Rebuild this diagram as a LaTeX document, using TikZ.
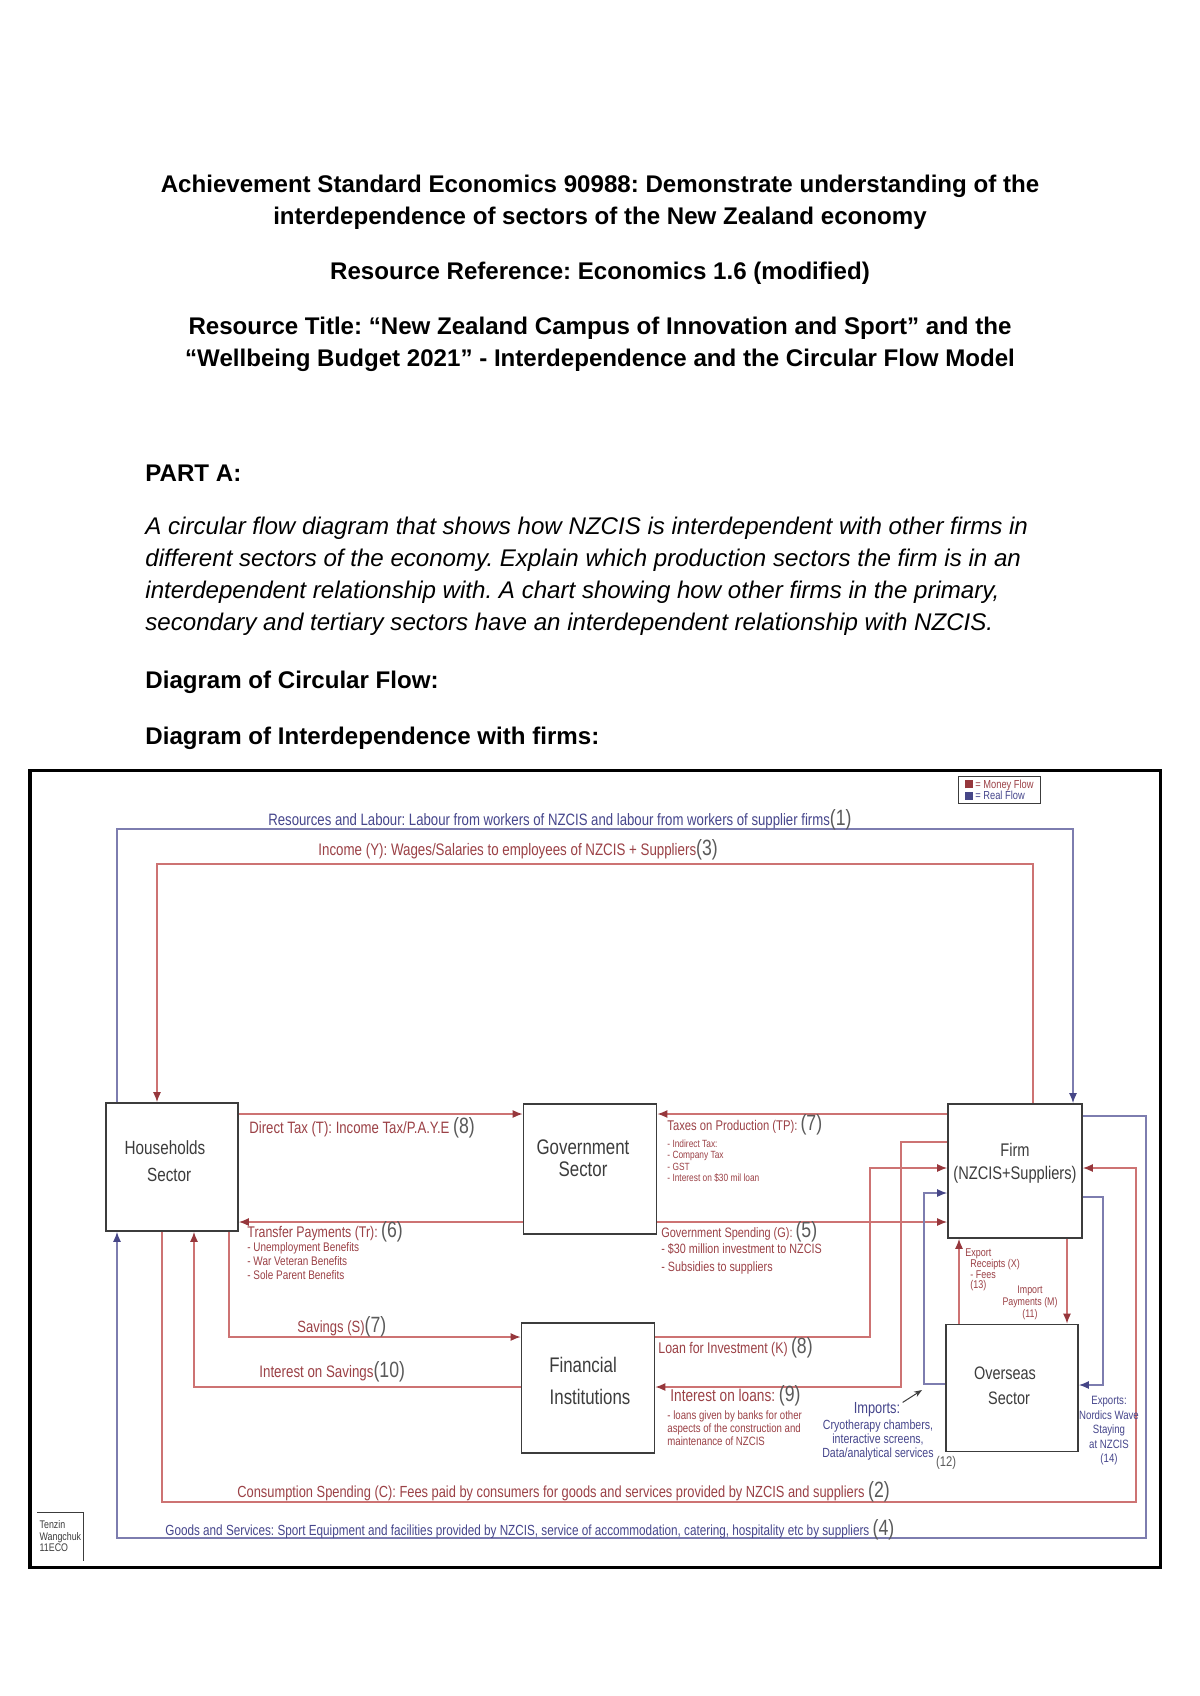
\documentclass[tikz,border=0pt]{standalone}
\usepackage{fontspec}
\setmainfont{Liberation Sans}
\newfontfamily\hand[FakeStretch=0.8]{Liberation Sans}
\usetikzlibrary{arrows.meta}
\definecolor{moneyline}{RGB}{205,115,115}
\definecolor{moneytip}{RGB}{150,55,60}
\definecolor{moneytext}{RGB}{155,65,70}
\definecolor{realline}{RGB}{125,125,175}
\definecolor{realtip}{RGB}{70,70,135}
\definecolor{realtext}{RGB}{70,70,140}
\definecolor{boxline}{RGB}{60,60,60}
\definecolor{numgray}{RGB}{90,90,90}
\newcommand{\hw}[2]{\hand\fontsize{#1}{#2}\selectfont}
\newcommand{\flowno}[1]{{\color{numgray}\fontsize{11}{11}\selectfont(#1)}}
\def\px{0.0175cm}
\frenchspacing

\begin{document}
\begin{tikzpicture}[
  x=0.0175cm, y=-0.0175cm,
  sector/.style={draw=boxline, line width=0.9pt, inner sep=0pt,
    minimum width=133*\px, minimum height=130*\px},
  sectortext/.style={inner sep=0pt, align=center, text=boxline},
  money/.style={draw=moneyline, line width=0.6pt, -{Latex[length=5pt,width=4pt,color=moneytip]}},
  real/.style={draw=realline, line width=0.6pt, -{Latex[length=5pt,width=4pt,color=realtip]}},
  mlabel/.style={anchor=west, inner sep=0pt, text=moneytext, align=left},
  rlabel/.style={anchor=west, inner sep=0pt, text=realtext, align=left},
  heading/.style={anchor=base, inner sep=0pt, font=\bfseries\fontsize{12}{14}\selectfont},
  bodyline/.style={anchor=base west, inner sep=0pt, font=\fontsize{12}{14}\selectfont},
]
  \fill[white] (0,0) rectangle (1200,1696);
  \useasboundingbox (0,0) rectangle (1200,1696);

  % Page text
  \node[heading] (title1) at (600,193) {Achievement Standard Economics 90988: Demonstrate understanding of the};
  \node[heading] (title2) at (600,225) {interdependence of sectors of the New Zealand economy};
  \node[heading] (resref) at (600,280) {Resource Reference: Economics 1.6 (modified)};
  \node[heading] (restitle1) at (600,335) {Resource Title: “New Zealand Campus of Innovation and Sport” and the};
  \node[heading] (restitle2) at (600,366) {“Wellbeing Budget 2021” - Interdependence and the Circular Flow Model};
  \node[bodyline, font=\bfseries\fontsize{12}{14}\selectfont] (parta) at (145,481) {PART A:};
  \foreach \ln [count=\i from 0] in {
      {A circular flow diagram that shows how NZCIS is interdependent with other firms in},
      {different sectors of the economy. Explain which production sectors the firm is in an},
      {interdependent relationship with. A chart showing how other firms in the primary,},
      {secondary and tertiary sectors have an interdependent relationship with NZCIS.}}
    \node[bodyline, font=\itshape\fontsize{12}{14}\selectfont] (para\i) at (145,{534+32*\i}) {\ln};
  \node[bodyline, font=\bfseries\fontsize{12}{14}\selectfont] (cfhead) at (145,688) {Diagram of Circular Flow:};
  \node[bodyline, font=\bfseries\fontsize{12}{14}\selectfont] (idhead) at (145,744) {Diagram of Interdependence with firms:};

  % Frame of the drawing
  \draw[line width=1.5pt] (30,770) rectangle (1160,1567);

  % Sectors
  \node[sector, minimum width=132*\px, minimum height=128*\px] (hh) at (172,1167) {};
  \node[sector] (gov) at (590,1169) {};
  \node[sector, minimum width=134*\px, minimum height=134*\px] (firm) at (1015,1171) {};
  \node[sector] (fin) at (588,1388) {};
  \node[sector, minimum width=132*\px, minimum height=127*\px] (os) at (1012,1388) {};
  \node[sectortext, font=\hw{9.5}{13.4}] (hhtext) at (165,1161) {Households\\\ \ Sector};
  \node[sectortext, font=\hw{10.5}{10.8}] (govtext) at (583,1158) {Government\\Sector};
  \node[sectortext, font=\hw{9.1}{11.3}] (firmtext) at (1015,1163) {Firm\\(NZCIS+Suppliers)};
  \node[sectortext, font=\hw{10.5}{16}] (fintext) at (583,1381) {Financial\\\ \ \ Institutions};
  \node[sectortext, font=\hw{9}{12.4}] (ostext) at (1005,1386) {Overseas\\\ \ Sector};

  % Legend
  \node[draw=boxline, line width=0.5pt, inner sep=1.5pt, anchor=north west, align=left,
        minimum width=82*\px, minimum height=27*\px, font=\hw{5.8}{5.8}] (legend) at (958,776)
    {{\color{moneytip}\rule{4pt}{4pt}}\,{\color{moneytext}= Money Flow}\\{\color{realtip}\rule{4pt}{4pt}}\,{\color{realtext}= Real Flow}};

  % Flows between households and firms
  \draw[real] (hh.north -| 117,0) -- (117,829) -- (1073,829) -- (firm.north -| 1073,0);
  \draw[money] (firm.north -| 1033,0) -- (1033,864) -- (157,864) -- (hh.north -| 157,0);
  \draw[money] (hh.south -| 162,0) -- (162,1502) -- (1136,1502) -- (1136,1168) -- (firm.east |- 0,1168);
  \draw[real] (firm.east |- 0,1116) -- (1146,1116) -- (1146,1538) -- (117,1538) -- (hh.south -| 117,0);
  % Government
  \draw[money] (hh.east |- 0,1114) -- (gov.west |- 0,1114);
  \draw[money] (gov.west |- 0,1222) -- (hh.east |- 0,1222);
  \draw[money] (firm.west |- 0,1114) -- (gov.east |- 0,1114);
  \draw[money] (gov.east |- 0,1222) -- (firm.west |- 0,1222);
  % Financial institutions
  \draw[money] (hh.south -| 229,0) -- (229,1337) -- (fin.west |- 0,1337);
  \draw[money] (fin.west |- 0,1387) -- (194,1387) -- (hh.south -| 194,0);
  \draw[money] (fin.east |- 0,1337) -- (870,1337) -- (870,1168) -- (firm.west |- 0,1168);
  \draw[money] (firm.west |- 0,1142) -- (901,1142) -- (901,1387) -- (fin.east |- 0,1387);
  % Overseas
  \coordinate (imptip) at (922,1390);
  \draw[real] (os.west |- 0,1384) -- (924,1384) -- (924,1193) -- (firm.west |- 0,1193);
  \draw[money] (firm.south -| 1067,0) -- (os.north -| 1067,0);
  \draw[money] (os.north -| 959,0) -- (firm.south -| 959,0);
  \draw[real] (firm.east |- 0,1197) -- (1103,1197) -- (1103,1385) -- (os.east |- 0,1385);

  % Labels
  \node[rlabel, font=\hw{8.2}{9}] (reslbl) at (268,820)
    {Resources and Labour: Labour from workers of NZCIS and labour from workers of supplier firms\flowno{1}};
  \node[mlabel, font=\hw{8.3}{9}] (inclbl) at (318,850)
    {Income (Y): Wages/Salaries to employees of NZCIS + Suppliers\flowno{3}};
  \node[mlabel, font=\hw{8.2}{9}] (dtlbl) at (249,1128) {Direct Tax (T): Income Tax/P.A.Y.E \flowno{8}};
  \node[mlabel, font=\hw{7.7}{9}] (trlbl) at (247,1232) {Transfer Payments (Tr): \flowno{6}};
  \node[mlabel, font=\hw{6.2}{7}] (trsub) at (247,1261)
    {- Unemployment Benefits\\- War Veteran Benefits\\- Sole Parent Benefits};
  \node[mlabel, font=\hw{7}{9}] (tplbl) at (667,1125) {Taxes on Production (TP): \flowno{7}};
  \node[mlabel, font=\hw{5.2}{5.6}] (tpsub) at (667,1161)
    {- Indirect Tax:\\- Company Tax\\- GST\\- Interest on \$30 mil loan};
  \node[mlabel, font=\hw{6.8}{9}] (gslbl) at (661,1232) {Government Spending (G): \flowno{5}};
  \node[mlabel, font=\hw{6.7}{9}] (gssub) at (661,1259)
    {- \$30 million investment to NZCIS\\- Subsidies to suppliers};
  \node[mlabel, font=\hw{8.1}{9}] (savlbl) at (297,1327) {Savings (S)\flowno{7}};
  \node[mlabel, font=\hw{8.3}{9}] (islbl) at (259,1372) {Interest on Savings\flowno{10}};
  \node[mlabel, font=\hw{7.7}{9}] (loanlbl) at (658,1348) {Loan for Investment (K) \flowno{8}};
  \node[mlabel, font=\hw{8.5}{9}] (illbl) at (670,1396) {Interest on loans: \flowno{9}};
  \node[mlabel, font=\hw{6}{5.2}] (ilsub) at (667,1428)
    {- loans given by banks for other\\aspects of the construction and\\maintenance of NZCIS};
  \node[inner sep=0pt, text=realtext, font=\hw{8}{9}] (implbl) at (877,1410) {Imports:};
  \node[inner sep=0pt, text=realtext, align=center, font=\hw{6.6}{5.6}] (impsub) at (878,1440)
    {Cryotherapy chambers,\\interactive screens,\\Data/analytical services};
  \node[inner sep=0pt, text=numgray, font=\hw{7}{7}] (impno) at (946,1463) {(12)};
  \draw[boxline, line width=0.5pt, -{Stealth[length=4pt,width=3pt]}] ([xshift=1pt]implbl.north east) -- (imptip);
  \node[inner sep=0pt, text=realtext, align=center, font=\hw{6}{7.2}] (explbl) at (1109,1431)
    {Exports:\\Nordics Wave\\Staying\\at NZCIS\\(14)};
  \node[mlabel, font=\hw{5.6}{5.3}] (erlbl) at (965,1270) {Export\\\ \ Receipts (X)\\\ \ - Fees\\\ \ (13)};
  \node[inner sep=0pt, text=moneytext, align=center, font=\hw{5.5}{4.8}] (iplbl) at (1030,1303)
    {Import\\Payments (M)\\(11)};
  \node[mlabel, font=\hw{8}{9}] (conlbl) at (237,1492)
    {Consumption Spending (C): Fees paid by consumers for goods and services provided by NZCIS and suppliers \flowno{2}};
  \node[rlabel, font=\hw{7.3}{9}] (gdslbl) at (165,1530)
    {Goods and Services: Sport Equipment and facilities provided by NZCIS, service of accommodation, catering, hospitality etc by suppliers \flowno{4}};

  % Name tag
  \node[anchor=north west, inner sep=1pt, align=left, minimum width=46*\px, minimum height=48*\px,
        text=boxline, font=\hw{5.5}{5.7}] (student) at (37,1512) {Tenzin\\Wangchuk\\11ECO};
  \draw[boxline, line width=0.5pt] (student.north west) -- (student.north east) -- (student.south east);
\end{tikzpicture}
\end{document}
